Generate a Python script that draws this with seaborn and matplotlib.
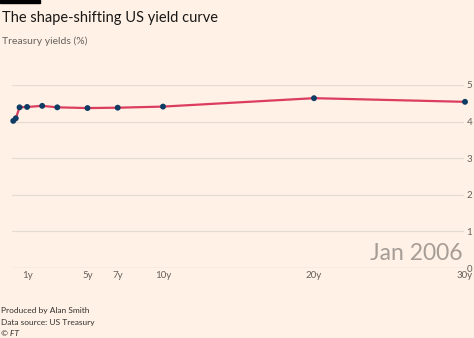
import matplotlib
matplotlib.use("Agg")
import matplotlib.pyplot as plt
import seaborn as sns
import pandas as pd

maturity_years = [1/12, 0.25, 0.5, 1, 2, 3, 5, 7, 10, 20, 30]
yields = [4.02, 4.09, 4.39, 4.40, 4.43, 4.39, 4.37, 4.38, 4.41, 4.64, 4.54]
xtick_values = [1, 5, 7, 10, 20, 30]
xtick_labels = ["1y", "5y", "7y", "10y", "20y", "30y"]
ytick_values = [0, 1, 2, 3, 4, 5]

df = pd.DataFrame({"maturity": maturity_years, "yield": yields})

sns.set_theme(style="white")
plt.rcParams['font.family'] = ['Lato', 'DejaVu Sans']

BG = "#fff1e5"
fig = plt.figure(figsize=(4.74, 3.38), dpi=100, facecolor=BG)
W, H = 474, 338
ax = fig.add_axes([12 / W, 1 - 268 / H, (465 - 12) / W, (268 - 85) / H])
ax.set_facecolor(BG)

sns.lineplot(data=df, x="maturity", y="yield", ax=ax, color="#dc3d5f", linewidth=1.6, zorder=3)
sns.scatterplot(data=df, x="maturity", y="yield", ax=ax, color="#0f3c64", s=18,
                edgecolor="none", zorder=4, clip_on=False)

ax.set_xlim(0, 30)
ax.set_ylim(0, 5)
for s in ax.spines.values():
    s.set_visible(False)
ax.set_yticks(ytick_values)
ax.set_yticklabels([str(v) for v in ytick_values])
ax.set_xticks(xtick_values)
ax.set_xticklabels(xtick_labels)
for y in ytick_values:
    ax.axhline(y, xmax=(463 - 12) / (465 - 12),
               color="#c9bfb6" if y == 0 else "#e6dbd2", linewidth=0.9, zorder=1)
ax.tick_params(axis="y", left=False, right=False, labelleft=False, labelright=True,
               length=0, pad=1, labelsize=7, labelcolor="#66605c")
ax.tick_params(axis="x", bottom=False, length=0, pad=2.5, labelsize=7, labelcolor="#66605c")
ax.set_xlabel("")
ax.set_ylabel("")

ax.text(29.85, 0.1, "Jan 2006", ha="right", va="bottom", fontsize=16.5, color="#a59d96", zorder=2)

fig.patches.append(plt.Rectangle((0, 1 - 3 / H), 40 / W, 3 / H, transform=fig.transFigure,
                                 color="black"))
fig.text(2 / W, 1 - 18 / H, "The shape-shifting US yield curve", fontsize=10.5, color="#1a1817",
         va="center", ha="left")
fig.text(2 / W, 1 - 41 / H, "Treasury yields (%)", fontsize=7.5, color="#66605c",
         va="center", ha="left")
fig.text(1 / W, 1 - 311 / H, "Produced by Alan Smith", fontsize=6, color="#33302e", va="center")
fig.text(1 / W, 1 - 322 / H, "Data source: US Treasury", fontsize=6, color="#33302e", va="center")
fig.text(1 / W, 1 - 333 / H, "© FT", fontsize=6, color="#33302e", va="center", style="italic")

fig.savefig("out.png", dpi=100, facecolor=BG)
